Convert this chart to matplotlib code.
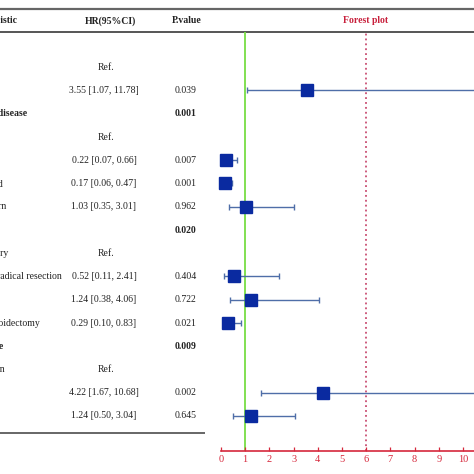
import matplotlib
matplotlib.use("Agg")
import matplotlib.pyplot as plt
import numpy as np

plt.rcParams['font.family'] = ['Liberation Serif', 'DejaVu Serif']

# ---------------- data ----------------
# left labels (only the parts that reach into the visible area are drawn)
labels = ["", "", "", "Lateral neck disease", "", "",
          "Bilateral, isolated", "Unknown pattern", "", "Lobectomy surgery",
          "Non-radical resection", "", "Total thyroidectomy", "Pathological stage",
          "Stage I-II pattern", "", ""]
bold_rows = [False, False, False, True, False, False, False, False, True, False,
             False, False, False, True, False, False, False]
hr_text = ["", "Ref.", "3.55 [1.07, 11.78]", "", "Ref.", "0.22 [0.07, 0.66]",
           "0.17 [0.06, 0.47]", "1.03 [0.35, 3.01]", "", "Ref.", "0.52 [0.11, 2.41]",
           "1.24 [0.38, 4.06]", "0.29 [0.10, 0.83]", "", "Ref.", "4.22 [1.67, 10.68]",
           "1.24 [0.50, 3.04]"]
p_text = ["", "", "0.039", "0.001", "", "0.007", "0.001", "0.962", "0.020", "",
          "0.404", "0.722", "0.021", "0.009", "", "0.002", "0.645"]
hr = [np.nan, np.nan, 3.55, np.nan, np.nan, 0.22, 0.17, 1.03, np.nan, np.nan,
      0.52, 1.24, 0.29, np.nan, np.nan, 4.22, 1.24]
lo = [np.nan, np.nan, 1.07, np.nan, np.nan, 0.07, 0.06, 0.35, np.nan, np.nan,
      0.11, 0.38, 0.10, np.nan, np.nan, 1.67, 0.50]
hi = [np.nan, np.nan, 11.78, np.nan, np.nan, 0.66, 0.47, 3.01, np.nan, np.nan,
      2.41, 4.06, 0.83, np.nan, np.nan, 10.68, 3.04]
xticks = [0, 1, 2, 3, 4, 5, 6, 7, 8, 9, 10]
headers = ["Characteristic", "HR(95%CI)", "P.value", "Forest plot"]

# ---------------- layout ----------------
W = H = 474
fig = plt.figure(figsize=(W / 100, H / 100), dpi=100)

n = len(hr_text)
rows = np.arange(n)
row_h = 23.25
top_row_px = 44.0
y_top = -top_row_px / row_h
y_bot = (H - top_row_px) / row_h
tax = fig.add_axes([0, 0, 1, 1])
tax.set_xlim(0, W)
tax.set_ylim(y_bot, y_top)
tax.axis('off')

fs = 7.0
txt_col = '#222222'
label_right_px = [0, 0, 0, 27, 0, 0, 3, 6, 0, 8, 62, 0, 40, 3, 5, 0, 0]
for i in rows:
    if labels[i]:
        tax.text(label_right_px[i], i, labels[i], ha='right', va='center', fontsize=fs,
                 fontweight='bold' if bold_rows[i] else 'normal', color=txt_col)
    if hr_text[i]:
        tax.text(104 if hr_text[i] != "Ref." else 106, i, hr_text[i], ha='center',
                 va='center', fontsize=fs, color=txt_col)
    if p_text[i]:
        tax.text(186, i, p_text[i], ha='center', va='center', fontsize=fs,
                 fontweight='bold' if bold_rows[i] else 'normal', color=txt_col)

hy = -1.0
tax.text(17, hy, headers[0], ha='right', va='center', fontsize=fs, fontweight='bold', color=txt_col)
tax.text(110, hy, headers[1], ha='center', va='center', fontsize=fs, fontweight='bold', color=txt_col)
tax.text(187, hy, headers[2], ha='center', va='center', fontsize=fs, fontweight='bold', color=txt_col)
tax.text(366, hy, headers[3], ha='center', va='center', fontsize=fs, fontweight='bold', color='#C8203C')

tax.plot([0, W], [-1.5, -1.5], color='#666666', lw=1.6, solid_capstyle='butt')
tax.plot([0, W], [-0.5, -0.5], color='#555555', lw=1.4, solid_capstyle='butt')
tax.plot([0, 205], [n - 0.25, n - 0.25], color='#666666', lw=1.4, solid_capstyle='butt')

# ---------------- forest axes ----------------
x0_px, px_per_unit = 221.0, 24.2
axis_px = 451.0
hdr_px = 32.0
fax = fig.add_axes([x0_px / W, (H - axis_px) / H, (W - x0_px) / W, (axis_px - hdr_px) / H])
fax.set_xlim(0, (W - x0_px) / px_per_unit)
fax.set_ylim(n + 0.5, -0.5)
fax.patch.set_alpha(0)
for s in ['top', 'right', 'left']:
    fax.spines[s].set_visible(False)
fax.spines['bottom'].set_color('#D6283C')
fax.spines['bottom'].set_linewidth(1.2)
fax.set_yticks([])
fax.set_xticks(xticks)
fax.set_xticklabels([str(t) for t in xticks])
fax.tick_params(axis='x', direction='in', length=3, width=0.9, colors='#D6283C',
                labelsize=7.5, pad=3)

fax.axvline(1, color='#77DD44', lw=1.3, zorder=1)
fax.axvline(6, color='#C0305A', lw=1.1, ls=(0, (1.2, 2.0)), zorder=1)

hr_a, lo_a, hi_a = np.array(hr), np.array(lo), np.array(hi)
m = ~np.isnan(hr_a)
fax.errorbar(hr_a[m], rows[m], xerr=[hr_a[m] - lo_a[m], hi_a[m] - hr_a[m]], fmt='none',
             ecolor='#4F6EA8', elinewidth=1.0, capsize=2.5, capthick=1.0, zorder=2,
             clip_on=False)
fax.plot(hr_a[m], rows[m], 's', ms=8.8, color='#0A2AA0', mec='#0A2AA0', zorder=3,
         clip_on=False)

fig.savefig('out.png', dpi=100)
